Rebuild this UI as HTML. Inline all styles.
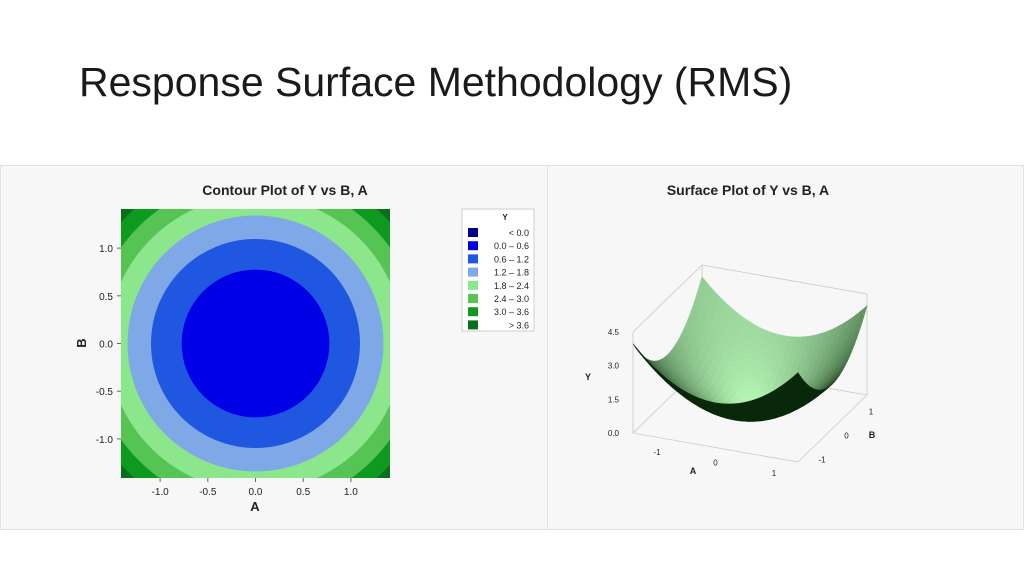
<!DOCTYPE html>
<html><head><meta charset="utf-8"><style>
body{margin:0;width:1024px;height:576px;background:#fff;overflow:hidden;font-family:"Liberation Sans",sans-serif}
#title{position:absolute;left:79px;top:59px;font-size:41px;color:#1a1a1a;letter-spacing:0px}
.panel{position:absolute;top:165px;height:363px;background:#f7f7f7;border:1px solid #e2e2e2}
</style></head><body>
<div id="title">Response Surface Methodology (RMS)</div>
<div class="panel" style="left:0;width:546px"></div>
<div class="panel" style="left:547px;width:475px"></div>
<svg id="svg" width="1024" height="576" style="position:absolute;left:0;top:0"></svg>
<script>
const levels=[0.6,1.2,1.8,2.4,3.0,3.6];
const levelColors=["#0000e6","#1f57e0","#7fa8e6","#8ce68c","#55c455","#0e9a1e","#07701a"];
const legendLabels=["< 0.0","0.0  –  0.6","0.6  –  1.2","1.2  –  1.8","1.8  –  2.4","2.4  –  3.0","3.0  –  3.6","> 3.6"];
const legendColors=["#000090","#0000e6","#1f57e0","#7fa8e6","#8ce68c","#55c455","#0e9a1e","#07701a"];
const xTicks=[-1.0,-0.5,0.0,0.5,1.0];
const yTicks=[-1.0,-0.5,0.0,0.5,1.0];
const zTicks=[0.0,1.5,3.0,4.5];
const abTicks=[-1,0,1];
const range=[-1.41,1.41];
const NS="http://www.w3.org/2000/svg";
const svg=document.getElementById('svg');
function mk(t,a,p){const e=document.createElementNS(NS,t);for(const k in a)e.setAttribute(k,a[k]);(p||svg).appendChild(e);return e;}
function txt(x,y,s,size,anchor,weight,fill){const e=mk('text',{x:x,y:y,'font-size':size,'text-anchor':anchor||'middle','font-weight':weight||'normal',fill:fill||'#222'});e.textContent=s;return e;}
const L=121,R=390,T=209,B=478;
const sx=v=>L+(v-range[0])/(range[1]-range[0])*(R-L);
const sy=v=>B-(v-range[0])/(range[1]-range[0])*(B-T);
const t1=txt(285,195,"Contour Plot of Y vs B, A",14,'middle','bold');


mk('defs',{}).innerHTML='<clipPath id="cp"><rect x="'+L+'" y="'+T+'" width="'+(R-L)+'" height="'+(B-T)+'"/></clipPath>';
const g=mk('g',{'clip-path':'url(#cp)'});


mk('rect',{x:L,y:T,width:R-L,height:B-T,fill:levelColors[6]},g);
for(let i=levels.length-1;i>=0;i--){
  const r=Math.sqrt(levels[i]);
  const c=mk('circle',{cx:sx(0),cy:sy(0),r:sx(r)-sx(0),fill:levelColors[i]},g);
  
  
}
xTicks.forEach(v=>{mk('line',{x1:sx(v),x2:sx(v),y1:B,y2:B+4,stroke:'#666'});txt(sx(v),B+17,v.toFixed(1),10);});
yTicks.forEach(v=>{mk('line',{x1:L-4,x2:L,y1:sy(v),y2:sy(v),stroke:'#666'});txt(L-8,sy(v)+4,v.toFixed(1),10,'end');});
const xa=txt(255,511,"A",13,'middle','bold');


const ya=txt(86,343,"B",13,'middle','bold');ya.setAttribute('transform','rotate(-90 86 343)');


const lg=mk('g',{});


mk('rect',{x:462,y:209,width:72,height:122,fill:'#fff',stroke:'#ccc'},lg);
txt(505,220,"Y",8,'middle','bold');
legendLabels.forEach((s,i)=>{const y=228+i*13.2;
  const r=mk('rect',{x:468,y:y,width:10,height:9,fill:legendColors[i]},lg);
  
  
  const t=txt(529,y+8,s,9,'end');t.setAttribute('xml:space','preserve');});
const t2=txt(748,195,"Surface Plot of Y vs B, A",14,'middle','bold');


const P0=[633,433],VA=[165,29],VB=[69,-67],VZ=[0,-101];
function proj(a,b,z){const u=(a-range[0])/(range[1]-range[0]),v=(b-range[0])/(range[1]-range[0]),w=z/4.5;
  return [P0[0]+u*VA[0]+v*VB[0]+w*VZ[0],P0[1]+u*VA[1]+v*VB[1]+w*VZ[1]];}
const box=mk('g',{stroke:'#c8c8c8','stroke-width':0.8,fill:'none'});


const lo=range[0],hi=range[1];
const edges=[[[lo,lo,0],[hi,lo,0]],[[hi,lo,0],[hi,hi,0]],[[hi,hi,0],[lo,hi,0]],[[lo,hi,0],[lo,lo,0]],
[[lo,lo,0],[lo,lo,4.5]],[[lo,hi,0],[lo,hi,4.5]],[[hi,hi,0],[hi,hi,4.5]],[[lo,lo,4.5],[lo,hi,4.5]],[[lo,hi,4.5],[hi,hi,4.5]]];
edges.forEach(e=>{const a=proj(...e[0]),b=proj(...e[1]);mk('line',{x1:a[0],y1:a[1],x2:b[0],y2:b[1]},box);});
zTicks.forEach(z=>{const p=proj(lo,lo,z);txt(p[0]-14,p[1]+3,z.toFixed(1),8,'end');});
abTicks.forEach(v=>{const p=proj(v,lo,0);txt(p[0],p[1]+18,String(v),8);const q=proj(hi,v,0);txt(q[0]+14,q[1]+10,String(v),8);});
txt(588,380,"Y",9,'middle','bold');txt(693,474,"A",9,'middle','bold');txt(872,438,"B",9,'middle','bold');
const N=28,quads=[];const f=(a,b)=>a*a+b*b;
const Lv=[0.25,-0.55,0.8];const ln=Math.hypot(...Lv);
for(let i=0;i<N;i++)for(let j=0;j<N;j++){
  const a0=lo+(hi-lo)*i/N,a1=lo+(hi-lo)*(i+1)/N,b0=lo+(hi-lo)*j/N,b1=lo+(hi-lo)*(j+1)/N;
  const am=(a0+a1)/2,bm=(b0+b1)/2;
  const n=[-2*am,-2*bm,1];const nn=Math.hypot(...n);
  let d=(n[0]*Lv[0]+n[1]*Lv[1]+n[2]*Lv[2])/(nn*ln);
  d=Math.max(0,Math.min(1,d));
  const c0=[10,40,12],c1=[180,244,180];
  const col='rgb('+c0.map((c,k)=>Math.round(c+(c1[k]-c)*Math.pow(d,0.7))).join(',')+')';
  const pts=[proj(a0,b0,f(a0,b0)),proj(a1,b0,f(a1,b0)),proj(a1,b1,f(a1,b1)),proj(a0,b1,f(a0,b1))];
  quads.push({depth:bm-0.4*am,pts:pts,col:col});
}
quads.sort((p,q)=>q.depth-p.depth);
const sg=mk('g',{});


quads.forEach(q=>mk('polygon',{points:q.pts.map(p=>p.join(',')).join(' '),fill:q.col,stroke:q.col,'stroke-width':0.6},sg));
</script>
</body></html>
